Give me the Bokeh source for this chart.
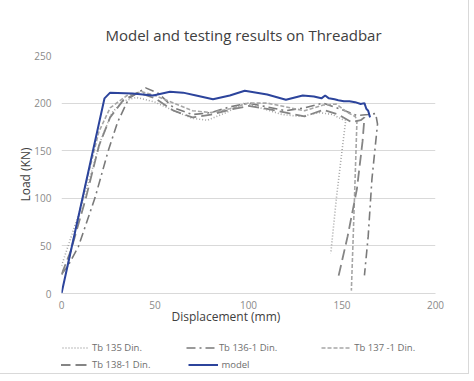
from bokeh.plotting import figure
from bokeh.models import Legend, LegendItem, Title, FixedTicker, Range1d
from bokeh.layouts import column
from bokeh.embed import file_html
from bokeh.resources import INLINE

# ---- data ----
tb135_x = [0, 11, 21, 27, 33, 40, 50, 60, 70, 78, 88, 98, 108, 118, 128, 138, 145, 150, 152, 150, 147, 144]
tb135_y = [29, 94, 161, 190, 202, 206, 201, 192, 184, 182, 190, 200, 194, 188, 186, 190, 188, 183, 182, 150, 100, 42]

tb136_x = [0, 4, 9, 18, 25, 30, 36, 45, 52, 60, 70, 80, 90, 100, 110, 120, 130, 140, 150, 158, 164, 168, 169, 166, 164, 162]
tb136_y = [20, 31, 49, 101, 150, 180, 205, 216, 210, 195, 188, 190, 196, 200, 196, 192, 195, 200, 193, 187, 188, 189, 178, 120, 60, 19]

tb137_x = [0, 3, 13, 20, 26, 35, 43, 50, 60, 70, 80, 90, 100, 110, 120, 130, 140, 147, 153, 157, 158, 157, 156, 155]
tb137_y = [21, 27, 115, 170, 195, 208, 212, 208, 200, 192, 190, 194, 200, 200, 196, 192, 198, 199, 190, 186, 182, 120, 60, 3]

tb138_x = [0, 5, 13, 20, 26, 33, 41, 50, 60, 70, 80, 90, 100, 110, 120, 130, 140, 148, 155, 160, 162, 161, 158, 153, 148]
tb138_y = [20, 45, 100, 155, 185, 203, 211, 205, 192, 185, 188, 193, 197, 194, 190, 186, 193, 188, 180, 182, 185, 160, 110, 60, 17]

model_x = [0, 23, 26, 38, 49, 58, 65, 72, 81, 90, 98, 110, 120, 129, 135, 139, 141, 143, 146, 148, 151, 154, 157, 160, 162, 163, 164, 165]
model_y = [0, 205, 211, 210, 208, 212, 211, 208, 204, 208, 213, 209, 203.5, 208, 207, 205, 208, 205, 204, 203, 202, 202, 201, 199, 200, 194, 192, 185]

x_ticks = [0, 50, 100, 150, 200]
y_ticks = [0, 50, 100, 150, 200, 250]

title_text = "Model and testing results on Threadbar"
x_title = "Displacement (mm)"
y_title = "Load (KN)"
names = ["Tb 135 Din.", "Tb 136-1 Din.", "Tb 137 -1 Din.", "Tb 138-1 Din.", "model"]

FONT = "Open Sans"
styles = [
    dict(line_color="#a6a6a6", line_width=1.6, line_dash="1 2"),
    dict(line_color="#7a7a7a", line_width=1.6, line_dash="9 4 2 4"),
    dict(line_color="#a6a6a6", line_width=1.6, line_dash="4 2"),
    dict(line_color="#858585", line_width=1.8, line_dash="11 5"),
    dict(line_color="#2c449c", line_width=2),
]
series = [(tb135_x, tb135_y), (tb136_x, tb136_y), (tb137_x, tb137_y),
          (tb138_x, tb138_y), (model_x, model_y)]

W = 468
p = figure(width=W, height=330, output_backend="svg", toolbar_location=None,
           x_range=Range1d(0, 200), y_range=Range1d(0, 250),
           min_border_left=61, min_border_right=33, min_border_top=55, min_border_bottom=37)

p.title.text = title_text
p.title.align = "left"
p.title.offset = 44
p.title.text_font = FONT
p.title.text_font_size = "15px"
p.title.text_font_style = "normal"
p.title.text_color = "#404040"
p.title.standoff = 22

p.outline_line_color = None
p.xgrid.grid_line_color = None
p.ygrid.grid_line_color = "#d9d9d9"
p.ygrid.ticker = FixedTicker(ticks=y_ticks)

p.xaxis.ticker = FixedTicker(ticks=x_ticks)
p.yaxis.ticker = FixedTicker(ticks=y_ticks)
for ax in (p.xaxis[0], p.yaxis[0]):
    ax.major_tick_line_color = None
    ax.minor_tick_line_color = None
    ax.major_label_text_font = FONT
    ax.major_label_text_font_size = "10px"
    ax.major_label_text_color = "#8a8a8a"
    ax.axis_label_text_font = FONT
    ax.axis_label_text_font_style = "normal"
    ax.axis_label_text_color = "#404040"
p.xaxis.axis_line_color = "#d9d9d9"
p.yaxis.axis_line_color = None
p.yaxis.major_label_standoff = 4
p.xaxis.major_label_standoff = 1
p.yaxis.axis_label = y_title
p.yaxis.axis_label_text_font_size = "12px"
p.yaxis.axis_label_standoff = -3

for (xs, ys), st in zip(series, styles):
    p.line(xs, ys, **st)

xt = Title(text=x_title, align="left", offset=110, text_font=FONT, text_font_size="12px",
           text_font_style="normal", text_color="#404040", standoff=-12)
p.add_layout(xt, "below")

# legend strip (its lines lie outside its visible range; only the legend shows)
q = figure(width=W, height=43, output_backend="svg", toolbar_location=None,
           x_range=Range1d(0, 1), y_range=Range1d(1000, 1001), title=None,
           x_axis_location=None, y_axis_location=None,
           min_border_left=0, min_border_right=0, min_border_top=0, min_border_bottom=0)
q.grid.visible = False
q.outline_line_color = None
rs = [q.line(xs, ys, **st) for (xs, ys), st in zip(series, styles)]

common = dict(orientation="horizontal", label_text_font=FONT, label_text_font_size="9.5px",
              label_text_color="#6e6e6e", glyph_width=30, glyph_height=17, label_height=17,
              label_standoff=3, padding=0, margin=0, border_line_color=None,
              background_fill_alpha=0)
leg1 = Legend(items=[LegendItem(label=names[i], renderers=[rs[i]]) for i in range(3)],
              location=(-2, 17), spacing=44, **common)
leg2 = Legend(items=[LegendItem(label=names[i], renderers=[rs[i]]) for i in range(3, 5)],
              location=(-2, 0), spacing=38, **common)
q.add_layout(leg1, "center")
q.add_layout(leg2, "center")

layout = column(p, q)
layout.styles = {"box-shadow": "0 0 0 1px #d9d9d9"}
open("out.html", "w").write(file_html(layout, INLINE))
